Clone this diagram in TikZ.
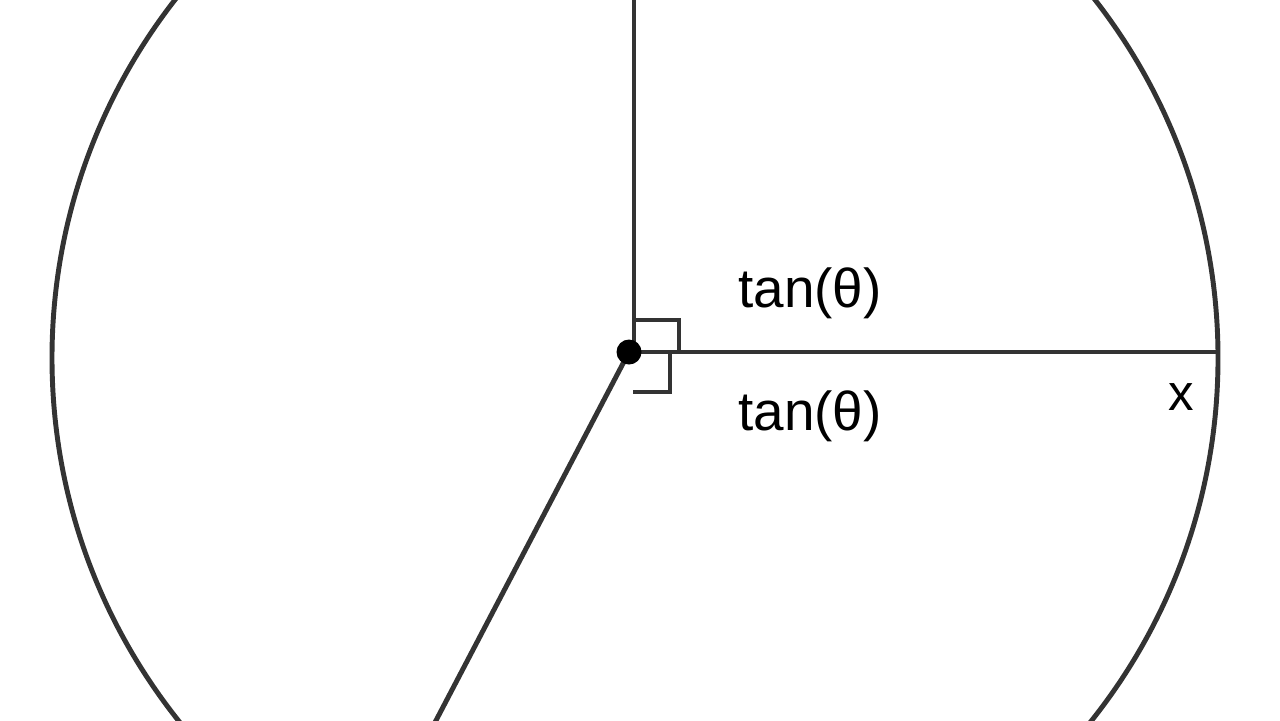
\documentclass[tikz,border=0pt]{standalone}
\usepackage{fontspec}
\setmainfont{Liberation Sans}
\definecolor{ink}{HTML}{333333}
\begin{document}
\begin{tikzpicture}[x=0.01cm,y=-0.01cm,
  stroke/.style={draw=ink,line width=1.4pt},
  lbl/.style={text=black,font=\fontsize{15.6}{18}\selectfont,inner sep=0pt,anchor=base}]
\useasboundingbox (0,0) rectangle (1280,720);
\clip (0,0) rectangle (1280,720);
\fill[white] (0,0) rectangle (1280,720);
\coordinate (C) at (635,358);
\coordinate (P) at (629,352);
\coordinate (T) at (634,-10);
\coordinate (R) at (1218,352);
\coordinate (B) at (431,730);
\draw[stroke] (C) circle[radius=583];
\draw[stroke] (T) -- (634,352);
\draw[stroke] (634,352) -- (R);
\draw[stroke] (P) -- (B);
\draw[stroke] (634,320) -- (679,320) -- (679,352);
\draw[stroke] (633,392) -- (670,392) -- (670,352);
\fill[black] (P) circle[radius=12.5];
\node[lbl] (t1) at (810,307) {tan(θ)};
\node[lbl] (t2) at (810,430) {tan(θ)};
\node[lbl,font=\fontsize{14.5}{17}\selectfont] (x) at (1181,410) {x};
\end{tikzpicture}
\end{document}
